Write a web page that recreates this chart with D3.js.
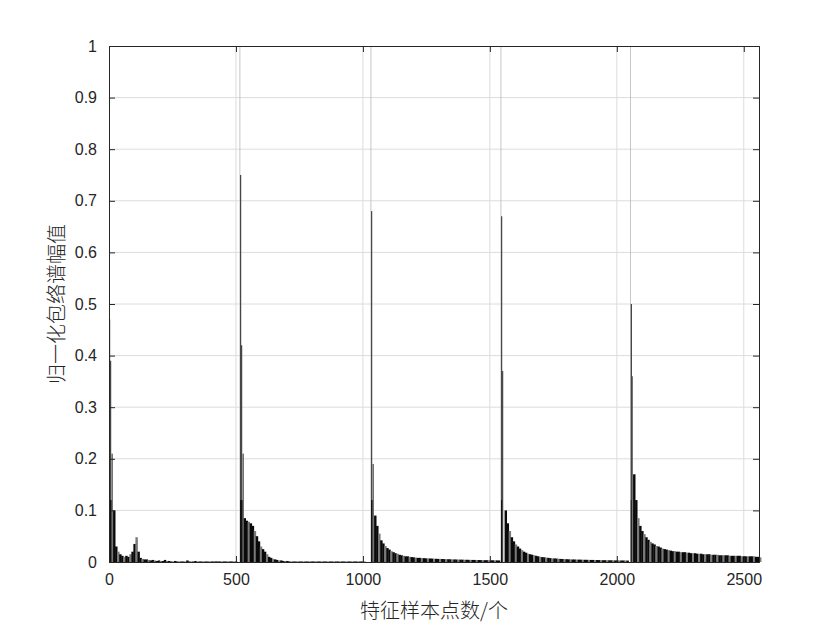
<!DOCTYPE html>
<html>
<head>
<meta charset="utf-8">
<script src="https://d3js.org/d3.v7.min.js"></script>
<style>
  body { margin: 0; background: #fff; }
  text { font-family: "Liberation Sans", Arial, sans-serif; fill: #262626; }
</style>
</head>
<body>
<div id="chart"></div>
<script>
// x ticks / y ticks
const xTicks = [0, 500, 1000, 1500, 2000, 2500];
const yTicks = [0, 0.1, 0.2, 0.3, 0.4, 0.5, 0.6, 0.7, 0.8, 0.9, 1];

// where each segment's binned tail starts (sample index), 8 samples per bin
const segStarts = [16, 530, 1044, 1558, 2064];
const binSize = 8;

// binned envelope values per segment
const seg1 = [0.1, 0.03, 0.02, 0.015, 0.012, 0.01, 0.012, 0.01, 0.015, 0.02, 0.035, 0.048, 0.02, 0.008,
  0.006, 0.005, 0.005, 0.004, 0.003, 0.004, 0.003, 0.002, 0.003, 0.002, 0.002, 0.004, 0.002, 0.002,
  0.001, 0.001, 0.002, 0.001, 0.001, 0.001, 0.001, 0.001, 0.003, 0.001, 0.001, 0.001, 0.002, 0.001,
  0.001, 0.001, 0.001, 0.001, 0.001, 0.001, 0.001, 0.001, 0.002, 0.001, 0.001, 0.001, 0.001, 0.001,
  0.001, 0.001, 0.001, 0.001, 0.001];
const seg2 = [0.085, 0.08, 0.078, 0.075, 0.07, 0.06, 0.05, 0.04, 0.03, 0.025, 0.02, 0.015, 0.01,
  0.008, 0.006, 0.005, 0.004, 0.003, 0.003, 0.002, 0.002, 0.002, 0.001, 0.001, 0.001, 0.001, 0.001,
  0.001, 0.001, 0.001, 0.001, 0.001, 0.001, 0.001, 0.001, 0.001, 0.001, 0.001, 0.001, 0.001, 0.001,
  0.001, 0.001, 0.001, 0.001, 0.001, 0.001, 0.001, 0.001, 0.001, 0.001, 0.001, 0.001, 0.001, 0.001,
  0.001, 0.001, 0.001, 0.001, 0.001];
const seg3 = [0.09, 0.07, 0.055, 0.042, 0.036, 0.031, 0.027, 0.024, 0.021, 0.019, 0.017, 0.016, 0.014,
  0.013, 0.012, 0.011, 0.011, 0.01, 0.0095, 0.009, 0.0085, 0.008, 0.008, 0.0075, 0.0075, 0.007, 0.007,
  0.0068, 0.0066, 0.0064, 0.0062, 0.006, 0.006, 0.0058, 0.0056, 0.0055, 0.0054, 0.0052, 0.005, 0.005,
  0.0048, 0.0047, 0.0046, 0.0045, 0.0044, 0.0043, 0.0042, 0.0041, 0.004, 0.004, 0.0039, 0.0038,
  0.0037, 0.0036, 0.0035, 0.0035, 0.0034, 0.0033, 0.0033, 0.0032, 0.0031, 0.003];
const seg4 = [0.1, 0.075, 0.06, 0.048, 0.04, 0.034, 0.03, 0.026, 0.023, 0.02, 0.018, 0.016, 0.015,
  0.014, 0.013, 0.012, 0.011, 0.01, 0.0095, 0.009, 0.0085, 0.008, 0.0075, 0.007, 0.007, 0.0066, 0.0063,
  0.006, 0.0058, 0.0056, 0.0054, 0.0052, 0.005, 0.0049, 0.0048, 0.0047, 0.0046, 0.0045, 0.0044,
  0.0043, 0.0042, 0.0041, 0.004, 0.004, 0.0039, 0.0038, 0.0037, 0.0036, 0.0035, 0.0035, 0.0034,
  0.0033, 0.0033, 0.0032, 0.0031, 0.003, 0.003, 0.003, 0.0029, 0.0028, 0.0028];
const seg5 = [0.17, 0.12, 0.085, 0.07, 0.06, 0.054, 0.048, 0.043, 0.039, 0.036, 0.034, 0.031, 0.03,
  0.028, 0.026, 0.025, 0.024, 0.023, 0.022, 0.021, 0.021, 0.02, 0.02, 0.019, 0.019, 0.019, 0.018,
  0.018, 0.017, 0.017, 0.017, 0.016, 0.016, 0.016, 0.015, 0.015, 0.015, 0.015, 0.014, 0.014, 0.014,
  0.014, 0.013, 0.013, 0.013, 0.013, 0.013, 0.012, 0.012, 0.012, 0.012, 0.012, 0.012, 0.011, 0.011,
  0.011, 0.011, 0.011, 0.011, 0.011, 0.01, 0.01, 0.009];
const segments = [seg1, seg2, seg3, seg4, seg5];

// isolated narrow peaks: sample index and value
const spikeIdx = [0, 4, 10, 514, 516, 520, 526, 1030, 1032, 1038, 1542, 1544, 1548, 2052, 2055, 2058];
const spikeVal = [0.47, 0.39, 0.21, 1.0, 0.75, 0.42, 0.21, 1.0, 0.68, 0.19, 1.0, 0.67, 0.37, 1.0, 0.5, 0.36];

const width = 840, height = 630;
const margin = { left: 109, right: 81, top: 46, bottom: 68 };

const svg = d3.select("#chart").append("svg")
  .attr("width", width).attr("height", height);

const x = d3.scaleLinear().domain([0, 2560]).range([margin.left, width - margin.right]);
const y = d3.scaleLinear().domain([0, 1]).range([height - margin.bottom, margin.top]);

// grid
svg.append("g").selectAll("line").data(xTicks.slice(1)).join("line")
  .attr("x1", d => x(d)).attr("x2", d => x(d))
  .attr("y1", y(0)).attr("y2", y(1))
  .attr("stroke", "#dcdcdc").attr("stroke-width", 1);
svg.append("g").selectAll("line").data(yTicks.slice(1, -1)).join("line")
  .attr("x1", x(0)).attr("x2", x(2560))
  .attr("y1", d => y(d)).attr("y2", d => y(d))
  .attr("stroke", "#dcdcdc").attr("stroke-width", 1);

// binned bars
const bins = [];
segments.forEach((s, k) => {
  s.forEach((v, i) => bins.push({ x0: segStarts[k] + i * binSize, v, i }));
});
svg.append("g").selectAll("rect").data(bins).join("rect")
  .attr("x", d => x(d.x0))
  .attr("width", d => x(d.x0 + binSize) - x(d.x0) + 0.4)
  .attr("y", d => y(d.v))
  .attr("height", d => y(0) - y(d.v))
  .attr("fill", d => d.i % 3 === 2 ? "#7a7a7a" : "#0a0a0a");

// spikes
svg.append("g").selectAll("rect").data(spikeIdx.map((s, i) => ({ s, v: spikeVal[i] }))).join("rect")
  .attr("x", d => x(d.s))
  .attr("width", d => d.v >= 1 ? 0.8 : 1.2)
  .attr("y", d => y(d.v))
  .attr("height", d => y(0) - y(d.v))
  .attr("fill", d => d.v >= 1 ? "#b8b8b8" : "#444");
// fill between first spikes in each segment
svg.append("g").selectAll("rect").data(spikeIdx.map((s, i) => ({ s, v: spikeVal[i], n: spikeIdx[i + 1] }))
    .filter(d => d.v < 1 && d.n !== undefined && d.n - d.s < 10)).join("rect")
  .attr("x", d => x(d.s))
  .attr("width", d => x(d.n) - x(d.s))
  .attr("y", d => y(0.12))
  .attr("height", d => y(0) - y(0.12))
  .attr("fill", "#111");

// axes box
const axisColor = "#262626";
const xAxis = svg.append("g").attr("transform", `translate(0,${y(0)})`)
  .call(d3.axisBottom(x).tickValues(xTicks).tickSize(-6).tickPadding(12).tickFormat(d3.format("d")));
const xAxisTop = svg.append("g").attr("transform", `translate(0,${y(1)})`)
  .call(d3.axisTop(x).tickValues(xTicks).tickSize(-6).tickFormat(""));
const yAxis = svg.append("g").attr("transform", `translate(${x(0)},0)`)
  .call(d3.axisLeft(y).tickValues(yTicks).tickSize(-6).tickPadding(12).tickFormat(d => d === 0 || d === 1 ? d : d3.format(".1f")(d)));
const yAxisR = svg.append("g").attr("transform", `translate(${x(2560)},0)`)
  .call(d3.axisRight(y).tickValues(yTicks).tickSize(-6).tickFormat(""));
[xAxis, xAxisTop, yAxis, yAxisR].forEach(a => {
  a.selectAll("path,line").attr("stroke", axisColor);
  a.selectAll("text").style("font-size", "16px").attr("fill", axisColor);
});

// labels
svg.append("text").attr("x", x(1280)).attr("y", 618).attr("text-anchor", "middle")
  .style("font-family", "'Noto Sans CJK SC', sans-serif").style("font-size", "20px").style("font-weight", 300)
  .text("特征样本点数/个");
svg.append("text").attr("transform", `translate(64,${y(0.5)}) rotate(-90)`).attr("text-anchor", "middle")
  .style("font-family", "'Noto Sans CJK SC', sans-serif").style("font-size", "20px").style("font-weight", 300)
  .text("归一化包络谱幅值");
</script>
</body>
</html>
